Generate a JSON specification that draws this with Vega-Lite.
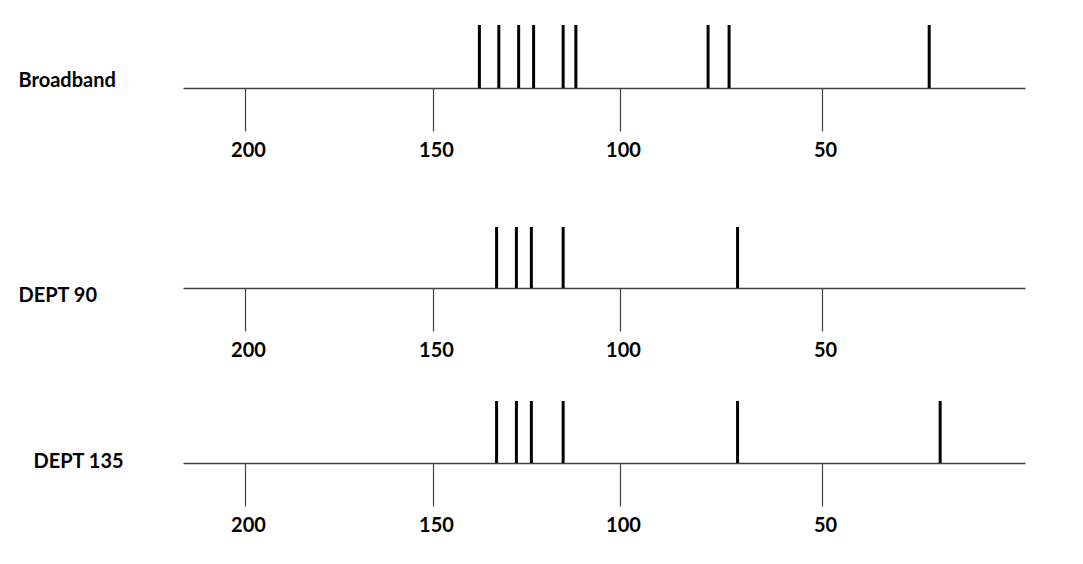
{
  "$schema": "https://vega.github.io/schema/vega-lite/v6.json",
  "padding": {"left": 18, "top": 23, "right": 10, "bottom": 10},
  "background": "white",
  "datasets": {
    "marks": [
      {"series": "Broadband", "value": 137.6},
      {"series": "Broadband", "value": 132.4},
      {"series": "Broadband", "value": 127.1},
      {"series": "Broadband", "value": 123.1},
      {"series": "Broadband", "value": 115.2},
      {"series": "Broadband", "value": 111.8},
      {"series": "Broadband", "value": 78.2},
      {"series": "Broadband", "value": 73.0},
      {"series": "Broadband", "value": 23.6},
      {"series": "DEPT 90", "value": 133.0},
      {"series": "DEPT 90", "value": 127.7},
      {"series": "DEPT 90", "value": 123.7},
      {"series": "DEPT 90", "value": 115.2},
      {"series": "DEPT 90", "value": 70.9},
      {"series": "DEPT 135", "value": 133.0},
      {"series": "DEPT 135", "value": 127.7},
      {"series": "DEPT 135", "value": 123.7},
      {"series": "DEPT 135", "value": 115.2},
      {"series": "DEPT 135", "value": 70.9},
      {"series": "DEPT 135", "value": 20.9}
    ]
  },
  "spacing": 65,
  "vconcat": [
    {
      "width": 842,
      "height": 63,
      "data": {"name": "marks"},
      "transform": [{"filter": "datum.series == 'Broadband'"}],
      "layer": [
        {
          "mark": {"type": "rule", "strokeWidth": 3, "color": "black"},
          "encoding": {
            "x": {
              "field": "value", "type": "quantitative",
              "scale": {"domain": [216.5, 200, 150, 100, 50, 0], "range": [0, 62, 250, 437, 639, 842], "nice": false, "zero": false},
              "axis": {"values": [200, 150, 100, 50], "title": null, "grid": false, "domainColor": "#404040", "domainWidth": 1.5, "tickColor": "#404040", "tickWidth": 1.2, "tickSize": 43, "labelPadding": 9, "labelOffset": 3, "labelFont": "Lato", "labelFontWeight": "bold", "labelFontSize": 20, "labelColor": "black"}
            }
          }
        },
        {
          "mark": {"type": "point", "opacity": 0},
          "encoding": {
            "y": {"field": "series", "type": "nominal", "axis": {"title": null, "domain": false, "ticks": false, "grid": false, "labelAlign": "left", "labelPadding": 165, "labelOffset": 24, "labelBaseline": "middle", "labelFont": "Lato", "labelFontWeight": "bold", "labelFontSize": 20, "labelColor": "black"}}
          }
        }
      ]
    },
    {
      "spacing": 39,
      "vconcat": [
        {
          "width": 842,
          "height": 61,
          "data": {"name": "marks"},
          "transform": [{"filter": "datum.series == 'DEPT 90'"}],
          "layer": [
            {
              "mark": {"type": "rule", "strokeWidth": 3, "color": "black"},
              "encoding": {
                "x": {
                  "field": "value", "type": "quantitative",
                  "scale": {"domain": [216.5, 200, 150, 100, 50, 0], "range": [0, 62, 250, 437, 639, 842], "nice": false, "zero": false},
                  "axis": {"values": [200, 150, 100, 50], "title": null, "grid": false, "domainColor": "#404040", "domainWidth": 1.5, "tickColor": "#404040", "tickWidth": 1.2, "tickSize": 43, "labelPadding": 9, "labelOffset": 3, "labelFont": "Lato", "labelFontWeight": "bold", "labelFontSize": 20, "labelColor": "black"}
                }
              }
            },
            {
              "mark": {"type": "point", "opacity": 0},
              "encoding": {
                "y": {"field": "series", "type": "nominal", "axis": {"title": null, "domain": false, "ticks": false, "grid": false, "labelAlign": "left", "labelPadding": 165, "labelOffset": 38, "labelBaseline": "middle", "labelFont": "Lato", "labelFontWeight": "bold", "labelFontSize": 20, "labelColor": "black"}}
              }
            }
          ]
        },
        {
          "width": 842,
          "height": 62,
          "data": {"name": "marks"},
          "transform": [{"filter": "datum.series == 'DEPT 135'"}],
          "layer": [
            {
              "mark": {"type": "rule", "strokeWidth": 3, "color": "black"},
              "encoding": {
                "x": {
                  "field": "value", "type": "quantitative",
                  "scale": {"domain": [216.5, 200, 150, 100, 50, 0], "range": [0, 62, 250, 437, 639, 842], "nice": false, "zero": false},
                  "axis": {"values": [200, 150, 100, 50], "title": null, "grid": false, "domainColor": "#404040", "domainWidth": 1.5, "tickColor": "#404040", "tickWidth": 1.2, "tickSize": 43, "labelPadding": 9, "labelOffset": 3, "labelFont": "Lato", "labelFontWeight": "bold", "labelFontSize": 20, "labelColor": "black"}
                }
              }
            },
            {
              "mark": {"type": "point", "opacity": 0},
              "encoding": {
                "y": {"field": "series", "type": "nominal", "axis": {"title": null, "domain": false, "ticks": false, "grid": false, "labelAlign": "left", "labelPadding": 150, "labelOffset": 29, "labelBaseline": "middle", "labelFont": "Lato", "labelFontWeight": "bold", "labelFontSize": 20, "labelColor": "black"}}
              }
            }
          ]
        }
      ]
    }
  ],
  "config": {"view": {"stroke": null}}
}
